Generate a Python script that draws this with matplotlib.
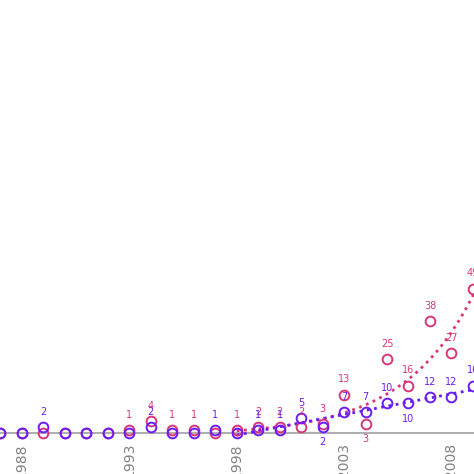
import numpy as np
import matplotlib
matplotlib.use("Agg")
import matplotlib.pyplot as plt

years = list(range(1987, 2010))
magenta = [0, 0, 0, 0, 0, 0, 1, 4, 1, 1, 0, 1, 2, 2, 2, 3, 13, 3, 25, 16, 38, 27, 49]
purple = [0, 0, 2, 0, 0, 0, 0, 2, 0, 0, 1, 0, 1, 1, 5, 2, 7, 7, 10, 10, 12, 12, 16]
tick_years = [1988, 1993, 1998, 2003, 2008]
# label below the marker for these years
magenta_below = [2004]
purple_below = [2002, 2006]

MAG = "#d9357a"
PUR = "#6a1cf2"

fig = plt.figure(figsize=(4.74, 4.74), dpi=100)
ax = fig.add_axes([0, 0, 1, 1])
ax.set_xlim(1986.98, 2009.05)
ax.set_ylim(-14, 147)
ax.axis("off")
ax.axhline(0, color="#a0a0a0", lw=1.2, zorder=0)

# trend lines from 1998 on
x = np.array(years[11:], dtype=float) - 1998
xs = np.linspace(1998, 2009.1, 100)
c = np.polyfit(x, np.log(np.array(magenta[11:]) + 1.0), 1)
ax.plot(xs, np.exp(np.polyval(c, xs - 1998)) - 1, ls=":", lw=2, color=MAG, zorder=1)
c = np.polyfit(x, np.array(purple[11:], dtype=float), 1)
ax.plot(xs, np.polyval(c, xs - 1998), ls=":", lw=2, color=PUR, zorder=1)

for vals, col, below in [(magenta, MAG, magenta_below), (purple, PUR, purple_below)]:
    ax.plot(years, vals, "o", ms=7, mfc="none", mec=col, mew=1.4, zorder=2)
    for yr, v in zip(years, vals):
        if v == 0:
            continue
        dy = -3.5 if yr in below else 3.5
        ax.text(yr, v + dy, str(v), color=col, fontsize=7,
                ha="center", va="top" if dy < 0 else "bottom")

for yr in tick_years:
    ax.text(yr, -3.5, str(yr), rotation=90, ha="center", va="top",
            color="#808080", fontsize=10)

fig.savefig("out.png", dpi=100)
